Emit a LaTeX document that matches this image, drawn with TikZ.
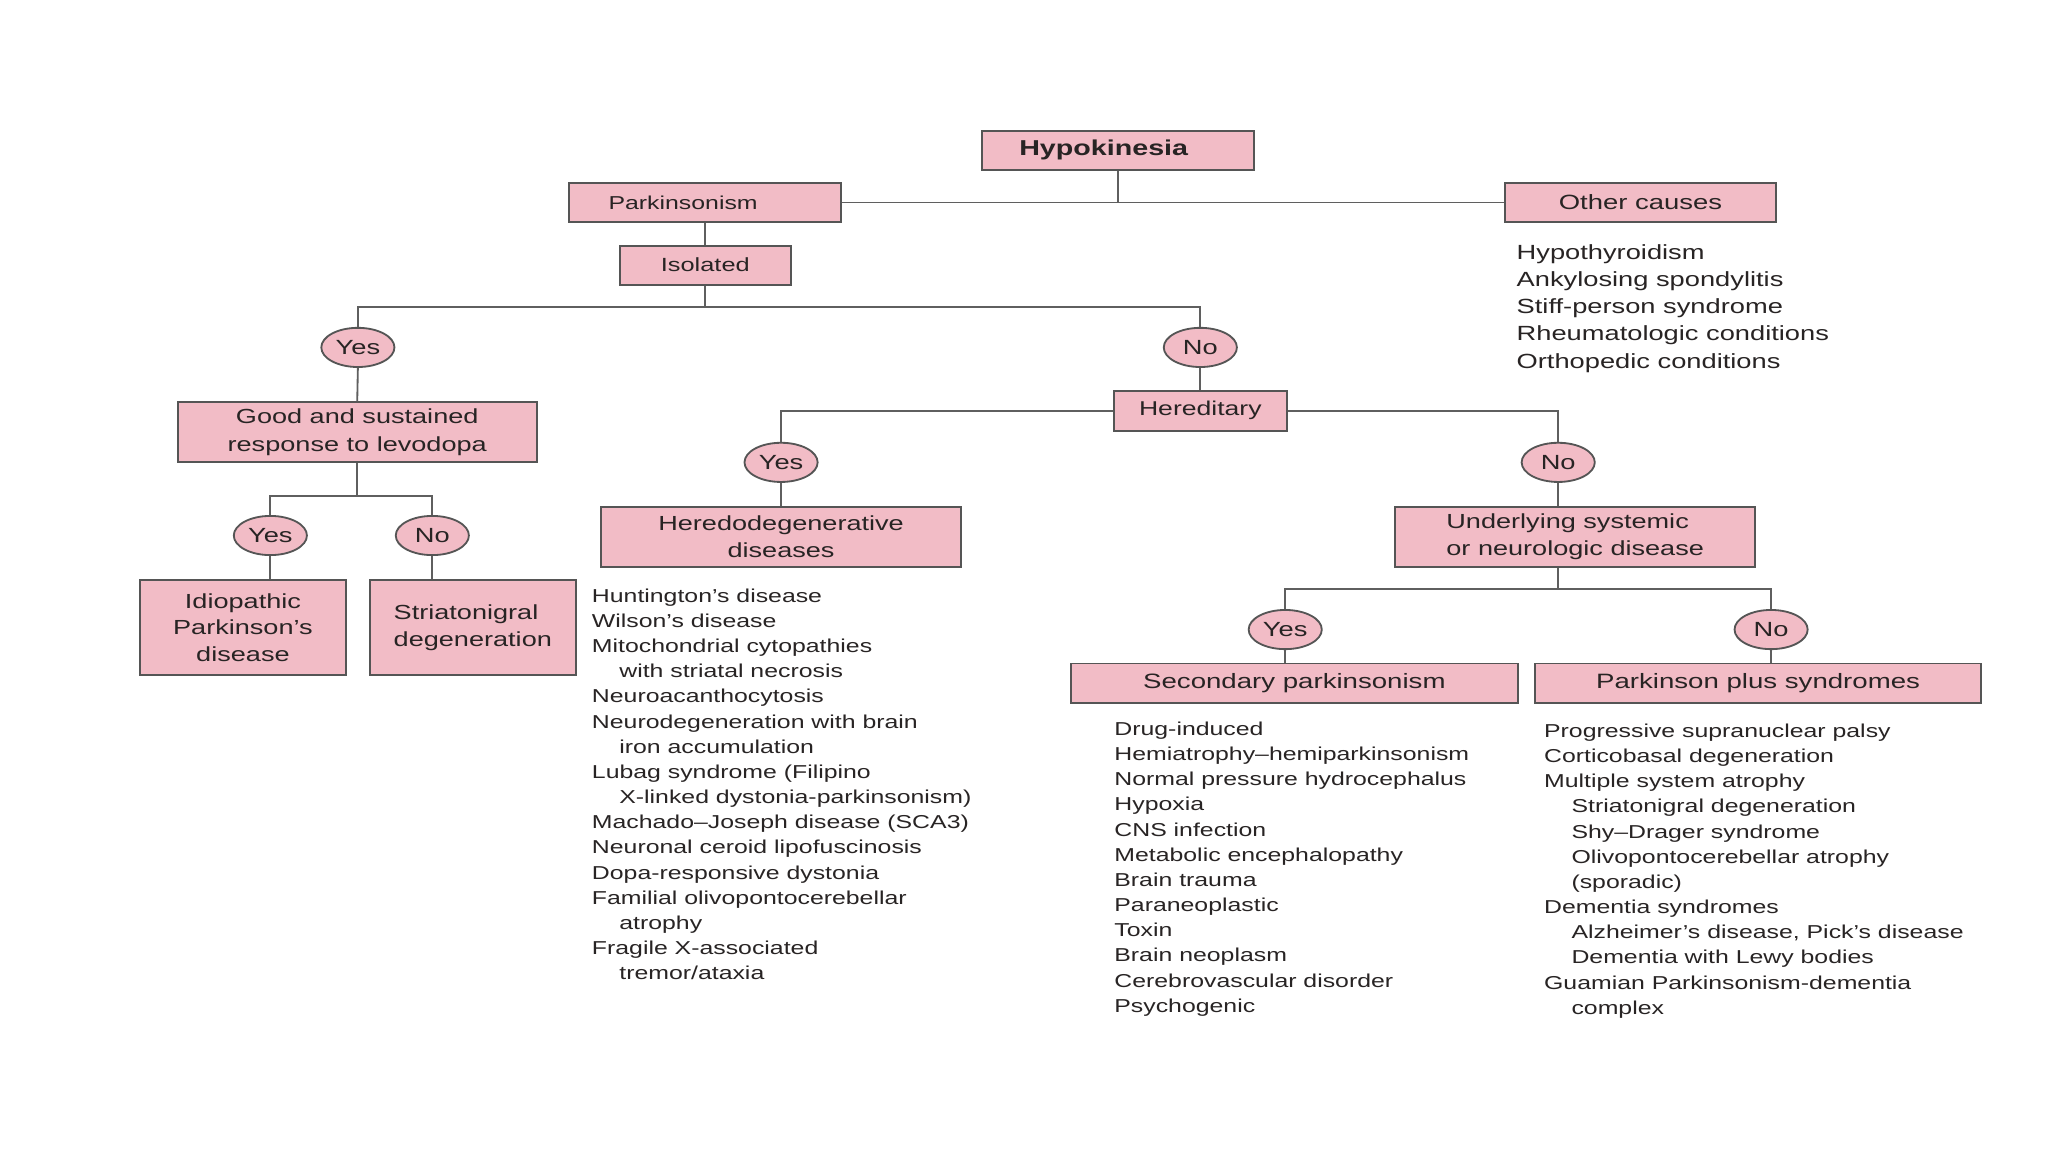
\documentclass[tikz,border=0pt]{standalone}
\usepackage{fontspec}
\setmainfont{Liberation Sans}[FakeStretch=1.33]
\usetikzlibrary{shapes.geometric}
\definecolor{boxpink}{RGB}{242,188,198}
\definecolor{edgegrey}{RGB}{85,85,85}
\definecolor{linegrey}{RGB}{95,95,95}
\definecolor{txt}{RGB}{40,36,36}
\tikzset{
  pbox/.style={draw=edgegrey, line width=1.5pt, fill=boxpink, text=txt, inner sep=0pt,
    font=\fontsize{15.6}{21}\selectfont},
  yn/.style={ellipse, draw=edgegrey, line width=1.4pt, fill=boxpink, text=txt, inner sep=0pt,
    minimum width=56pt, minimum height=30pt, font=\fontsize{15.7}{19}\selectfont},
  conn/.style={draw=linegrey, line width=1.4pt},
  listtxt/.style={anchor=north west, align=left, inner sep=0pt, text=txt,
    font=\fontsize{14.3}{19.27}\selectfont},
}
\newcommand{\ind}{\hspace*{21pt}}
\begin{document}
\begin{tikzpicture}[x=1pt,y=-1pt]
\useasboundingbox[fill=white] (0,0) rectangle (1568,882);

% boxes
\node[pbox, minimum width=208pt, minimum height=30pt, font=\bfseries\fontsize{16.5}{20}\selectfont] (hypo) at (856,115) {\raisebox{-1.5pt}{Hypokinesia}\rule{22pt}{0pt}};
\node[pbox, minimum width=208pt, minimum height=30pt, font=\fontsize{14.3}{20}\selectfont] (park) at (540,155) {Parkinsonism\rule{34pt}{0pt}};
\node[pbox, minimum width=208pt, minimum height=30pt, font=\fontsize{15.8}{20}\selectfont] (other) at (1256,155) {Other causes};
\node[pbox, minimum width=131pt, minimum height=30pt, font=\fontsize{14.6}{20}\selectfont] (iso) at (540,203) {Isolated};
\node[pbox, minimum width=275pt, minimum height=46pt, align=center] (good) at (273.5,331) {Good and sustained\\response to levodopa};
\node[pbox, minimum width=158pt, minimum height=73pt, align=center, font=\fontsize{15.6}{20.5}\selectfont] (idio) at (186,480.5) {Idiopathic\\Parkinson’s\\disease};
\node[pbox, minimum width=158pt, minimum height=73pt, align=left] (stri) at (362,480.5) {Striatonigral\\degeneration};
\node[pbox, minimum width=132pt, minimum height=31pt, font=\fontsize{15.3}{20}\selectfont] (here) at (919,314.5) {Hereditary};
\node[pbox, minimum width=276pt, minimum height=46pt, align=center] (hered) at (598,411) {Heredodegenerative\\diseases};
\node[pbox, minimum width=276pt, minimum height=46pt, align=left] (under) at (1206,411) {Underlying systemic\\or neurologic disease};
\node[pbox, minimum width=342pt, minimum height=30pt, font=\fontsize{15.9}{20}\selectfont] (sec) at (991,523) {Secondary parkinsonism};
\node[pbox, minimum width=342pt, minimum height=30pt, font=\fontsize{15.9}{20}\selectfont] (plus) at (1346,523) {Parkinson plus syndromes};

% yes/no ellipses
\node[yn] (yes1) at (274,266) {Yes};
\node[yn] (no1) at (919,266) {No};
\node[yn] (yes2) at (207,410) {Yes};
\node[yn] (no2) at (331,410) {No};
\node[yn] (yes3) at (598,354) {Yes};
\node[yn] (no3) at (1193,354) {No};
\node[yn] (yes4) at (984,482) {Yes};
\node[yn] (no4) at (1356,482) {No};

% junctions
\coordinate (j1) at (540,235);
\coordinate (j2) at (273.5,380);
\coordinate (j3) at (1193,451);

% connectors
\draw[conn] (park.east) -- (other.west);
\draw[conn] (hypo.south) -- (hypo.south |- park.east);
\draw[conn] (park.south) -- (iso.north);
\draw[conn] (iso.south) -- (j1);
\draw[conn] (yes1.north) |- (j1) -| (no1.north);
\draw[conn] (yes1.south) -- (good.north);
\draw[conn] (good.south) -- (j2);
\draw[conn] (yes2.north) |- (j2) -| (no2.north);
\draw[conn] (yes2.south) -- (yes2.south |- idio.north);
\draw[conn] (no2.south) -- (no2.south |- stri.north);
\draw[conn] (no1.south) -- (here.north);
\draw[conn] (here.west) -| (yes3.north);
\draw[conn] (here.east) -| (no3.north);
\draw[conn] (yes3.south) -- (hered.north);
\draw[conn] (no3.south) -- (no3.south |- under.north);
\draw[conn] (j3 |- under.south) -- (j3);
\draw[conn] (yes4.north) |- (j3) -| (no4.north);
\draw[conn] (yes4.south) -- (yes4.south |- sec.north);
\draw[conn] (no4.south) -- (no4.south |- plus.north);

% lists
\node[listtxt, font=\fontsize{15.7}{20.8}\selectfont] (otherlist) at (1161,187) {Hypothyroidism\\Ankylosing spondylitis\\Stiff-person syndrome\\Rheumatologic conditions\\Orthopedic conditions};

\node[listtxt] (heredlist) at (453,450.5) {Huntington’s disease\\Wilson’s disease\\Mitochondrial cytopathies\\\ind with striatal necrosis\\Neuroacanthocytosis\\Neurodegeneration with brain\\\ind iron accumulation\\Lubag syndrome (Filipino\\\ind X-linked dystonia-parkinsonism)\\Machado–Joseph disease (SCA3)\\Neuronal ceroid lipofuscinosis\\Dopa-responsive dystonia\\Familial olivopontocerebellar\\\ind atrophy\\Fragile X-associated\\\ind tremor/ataxia};

\node[listtxt] (seclist) at (853,552.5) {Drug-induced\\Hemiatrophy–hemiparkinsonism\\Normal pressure hydrocephalus\\Hypoxia\\CNS infection\\Metabolic encephalopathy\\Brain trauma\\Paraneoplastic\\Toxin\\Brain neoplasm\\Cerebrovascular disorder\\Psychogenic};

\node[listtxt] (pluslist) at (1182,554) {Progressive supranuclear palsy\\Corticobasal degeneration\\Multiple system atrophy\\\ind Striatonigral degeneration\\\ind Shy–Drager syndrome\\\ind Olivopontocerebellar atrophy\\\ind (sporadic)\\Dementia syndromes\\\ind Alzheimer’s disease, Pick’s disease\\\ind Dementia with Lewy bodies\\Guamian Parkinsonism-dementia\\\ind complex};
\end{tikzpicture}
\end{document}
